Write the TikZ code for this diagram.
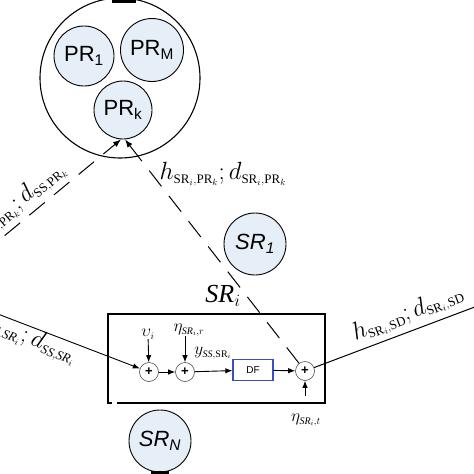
\documentclass[tikz,border=0pt]{standalone}
\usepackage{fontspec}
\setmainfont{Liberation Serif}
\setsansfont{Liberation Sans}
\usetikzlibrary{arrows.meta}
\DeclareMathSizes{24}{24}{13}{9}
\DeclareMathSizes{17}{17}{10}{7}
\DeclareMathSizes{26}{26}{16}{12}
\definecolor{nodefill}{HTML}{E6EEF7}
\definecolor{dfblue}{HTML}{3A4FC4}
\tikzset{
  user/.style={circle,draw,line width=0.9pt,fill=nodefill,inner sep=0pt,minimum size=#1,
    font=\sffamily\fontsize{22}{22}\selectfont},
  adder/.style={circle,draw=black!70,line width=0.6pt,fill=white,inner sep=0pt,minimum size=19pt,
    font=\sffamily\bfseries\fontsize{13}{13}\selectfont},
  sig/.style={-{Latex[length=7pt,width=5.5pt]},line width=0.9pt},
  link/.style={line width=1pt},
  dlink/.style={line width=1pt,dash pattern=on 20pt off 12pt,-{Latex[length=8pt,width=6pt]}},
  biglabel/.style={inner sep=0pt,font=\fontsize{24}{24}\selectfont},
  smalllabel/.style={inner sep=0pt,font=\fontsize{17}{17}\selectfont},
  frame/.style={line width=2.5pt}
}
\begin{document}
\begin{tikzpicture}[x=1pt,y=-1pt]
\useasboundingbox (0,0) rectangle (474,474);
\clip (0,0) rectangle (474,474);

% primary receivers
\node[circle,draw,line width=1.1pt,minimum size=160pt,inner sep=0pt] (prgroup) at (120,78) {};
\node[user=60pt] (p1) at (84,56) {PR\textsubscript{1}};
\node[user=63pt] (pm) at (152,50) {PR\textsubscript{M}};
\node[user=58pt] (pk) at (123,110) {PR\textsubscript{k}};

% secondary relays
\node[user=62pt,font=\sffamily\itshape\fontsize{22}{22}\selectfont] (s1) at (255,244) {SR\textsubscript{1}};
\node[user=62pt,font=\sffamily\itshape\fontsize{22}{22}\selectfont] (sn) at (160,441) {SR\textsubscript{N}};
\node[inner sep=0pt,font=\fontsize{26}{26}\selectfont] (sri) at (223,296) {$\mathit{SR}_i$};

% relay block
\draw[frame] (117,403) -- (325,403) -- (325,314) -- (108,314) -- (108,403) -- (112,403);
\node[adder] (a1) at (149,372) {+};
\node[adder] (a2) at (185,372) {+};
\node[draw=dfblue,line width=1.2pt,minimum width=40pt,minimum height=21pt,inner sep=0pt,
  font=\sffamily\fontsize{10}{10}\selectfont] (df) at (253,370) {DF};
\node[adder] (a3) at (305,371) {+};
\draw[sig] (a1) -- (a2);
\draw[sig] (a2) -- (df);
\draw[sig] (df) -- (a3);

\node[smalllabel] (ups) at (148,334) {$\upsilon_i$};
\node[smalllabel] (etr) at (189,330) {$\eta_{\mathit{SR}_i,r}$};
\node[smalllabel] (yss) at (213,353) {$y_{\mathit{SS},\mathrm{SR}_i}$};
\node[smalllabel] (ett) at (306,420) {$\eta_{\mathit{SR}_i,t}$};
\coordinate (tin) at (305,396);
\draw[sig] (ups) -- (a1);
\draw[sig] (etr.south -| a2) -- (a2);
\draw[sig] (tin) -- (a3);

% links
\coordinate (ssp) at (-20,256);
\coordinate (sss) at (-10,311);
\coordinate (sd) at (480,305);
\draw[dlink] (ssp) -- ([xshift=-2pt]pk.south);
\draw[dlink] (a3) -- ([xshift=2pt]pk.south);
\draw[sig] (sss) -- (a1);
\draw[link] (a3) -- (sd);

% link labels
\node[biglabel] (lsk) at (223,174) {$h_{\mathrm{SR}_i,\mathrm{PR}_k};d_{\mathrm{SR}_i,\mathrm{PR}_k}$};
\node[biglabel,rotate=40,anchor=base east] (lpk) at (66,170) {$h_{\mathrm{SS},\mathrm{PR}_k};d_{\mathrm{SS},\mathrm{PR}_k}$};
\node[biglabel,rotate=-21.5,anchor=base east] (lsi) at (74,362) {$h_{\mathit{SS},\mathit{SR}_i};d_{\mathit{SS},\mathit{SR}_i}$};
\node[biglabel,rotate=21.5] (lsd) at (408,314) {$h_{\mathrm{SR}_i,\mathrm{SD}};d_{\mathrm{SR}_i,\mathrm{SD}}$};

% cut-off strokes at the edges
\draw[line width=4pt] (112,1) -- (136,1);
\draw[line width=4pt] (151,473) -- (169,473);
\end{tikzpicture}
\end{document}
